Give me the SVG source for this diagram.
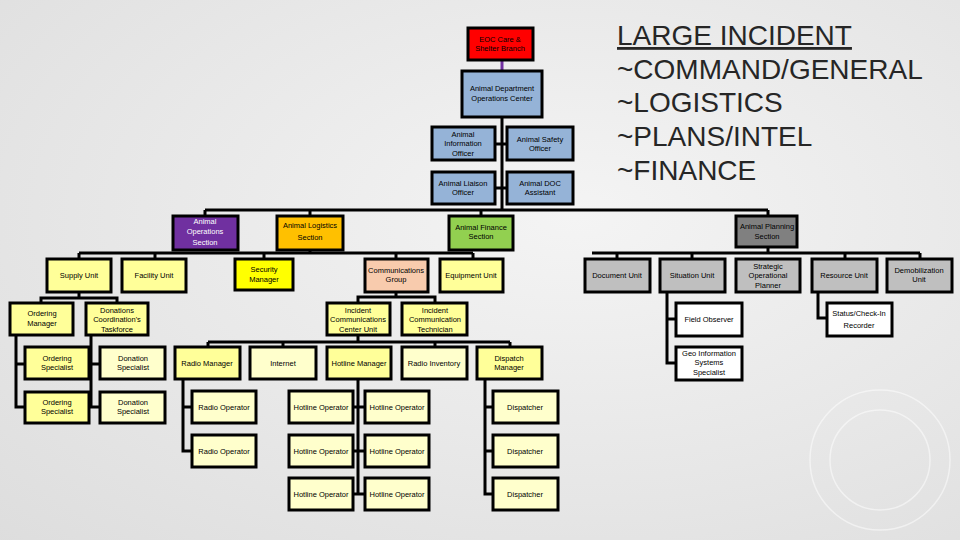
<svg xmlns="http://www.w3.org/2000/svg" width="960" height="540" viewBox="0 0 960 540">
<defs>
<radialGradient id="bg" cx="0.6" cy="0.4" r="0.9"><stop offset="0" stop-color="#f4f4f4"/><stop offset="1" stop-color="#dcdcdc"/></radialGradient>
<style>
rect{stroke:#000;stroke-width:3}
text{font-family:"Liberation Sans",Arial,sans-serif;font-size:7.5px;fill:#000;text-anchor:middle}
.c line,.c polyline{stroke:#000;stroke-width:3;fill:none}
.big{font-size:28px;text-anchor:start;fill:#262626}
.r{fill:#ff0000}.b{fill:#95b3d7}.p{fill:#7030a0}.g{fill:#ffc000}.gr{fill:#92d050}.dk{fill:#808080}
.y{fill:#ffff99}.yy{fill:#ffff00}.pe{fill:#f8cbad}.ly{fill:#ffffcc}.lg{fill:#bfbfbf}.w{fill:#ffffff}
.wt{fill:#fff}
</style>
</defs>
<rect x="0" y="0" width="960" height="540" fill="url(#bg)" style="stroke:none"/>
<circle cx="880" cy="460" r="70" fill="none" stroke="#fff" stroke-opacity="0.5" stroke-width="1.5"/>
<circle cx="880" cy="460" r="50" fill="none" stroke="#fff" stroke-opacity="0.5" stroke-width="1.5"/>

<g class="c" id="connectors">
<line x1="502" y1="60" x2="502" y2="71" style="stroke:#7030a0"/>
<line x1="502" y1="117" x2="502" y2="210"/>
<line x1="495" y1="144" x2="507" y2="144"/>
<line x1="495" y1="188" x2="507" y2="188"/>
<line x1="205" y1="210" x2="768" y2="210"/>
<line x1="205" y1="210" x2="205" y2="216"/>
<line x1="310" y1="210" x2="310" y2="216"/>
<line x1="481" y1="210" x2="481" y2="216"/>
<line x1="768" y1="210" x2="768" y2="216"/>
<line x1="310" y1="250" x2="310" y2="253"/>
<line x1="79" y1="253" x2="473" y2="253"/>
<line x1="79" y1="253" x2="79" y2="259"/>
<line x1="155" y1="253" x2="155" y2="259"/>
<line x1="264" y1="253" x2="264" y2="259"/>
<line x1="396" y1="253" x2="396" y2="259"/>
<line x1="473" y1="253" x2="473" y2="259"/>
<polyline points="41,303 41,298 117,298 117,303"/>
<line x1="79" y1="292" x2="79" y2="298"/>
<polyline points="16,335 16,407 25,407"/>
<line x1="16" y1="364" x2="25" y2="364"/>
<polyline points="91,335 91,407 100,407"/>
<line x1="91" y1="364" x2="100" y2="364"/>
<line x1="396" y1="292" x2="396" y2="297"/>
<polyline points="358,303 358,297 435,297 435,303"/>
<line x1="358" y1="335" x2="358" y2="342"/>
<line x1="208" y1="342" x2="510" y2="342"/>
<line x1="208" y1="342" x2="208" y2="347"/>
<line x1="283" y1="342" x2="283" y2="347"/>
<line x1="435" y1="342" x2="435" y2="347"/>
<line x1="510" y1="342" x2="510" y2="347"/>
<polyline points="183,379 183,451 192,451"/>
<line x1="183" y1="407" x2="192" y2="407"/>
<line x1="358" y1="379" x2="358" y2="494"/>
<line x1="353" y1="407" x2="365" y2="407"/>
<line x1="353" y1="451" x2="365" y2="451"/>
<line x1="353" y1="494" x2="365" y2="494"/>
<polyline points="485,379 485,494 493,494"/>
<line x1="485" y1="407" x2="493" y2="407"/>
<line x1="485" y1="451" x2="493" y2="451"/>
<line x1="768" y1="247" x2="768" y2="253"/>
<line x1="592" y1="253" x2="920" y2="253"/>
<line x1="617" y1="253" x2="617" y2="259"/>
<line x1="692" y1="253" x2="692" y2="259"/>
<line x1="845" y1="253" x2="845" y2="259"/>
<line x1="920" y1="253" x2="920" y2="259"/>
<polyline points="667,292 667,363 676,363"/>
<line x1="667" y1="319" x2="676" y2="319"/>
<polyline points="818,292 818,318 827,318"/>
</g>

<g id="eoc"><rect class="r" x="468" y="28" width="65" height="32"/><text x="500" y="42">EOC Care &amp;</text><text x="500" y="51">Shelter Branch</text></g>
<g id="adoc"><rect class="b" x="462" y="71" width="80" height="46"/><text x="502" y="91">Animal Department</text><text x="502" y="101">Operations Center</text></g>
<g id="aio"><rect class="b" x="432" y="127" width="63" height="33"/><text x="463" y="137">Animal</text><text x="463" y="146">Information</text><text x="463" y="156">Officer</text></g>
<g id="aso"><rect class="b" x="507" y="127" width="66" height="33"/><text x="540" y="142">Animal Safety</text><text x="540" y="151">Officer</text></g>
<g id="alo"><rect class="b" x="432" y="172" width="63" height="32"/><text x="463" y="186">Animal Liaison</text><text x="463" y="195">Officer</text></g>
<g id="adas"><rect class="b" x="507" y="172" width="66" height="32"/><text x="540" y="186">Animal DOC</text><text x="540" y="195">Assistant</text></g>
<g id="ops"><rect class="p" x="173" y="216" width="65" height="34"/><text class="wt" x="205" y="224">Animal</text><text class="wt" x="205" y="234">Operations</text><text class="wt" x="205" y="245">Section</text></g>
<g id="log"><rect class="g" x="277" y="216" width="66" height="34"/><text x="310" y="228">Animal Logistics</text><text x="310" y="240">Section</text></g>
<g id="fin"><rect class="gr" x="449" y="216" width="64" height="34"/><text x="481" y="230">Animal Finance</text><text x="481" y="239">Section</text></g>
<g id="plan"><rect class="dk" x="736" y="216" width="61" height="31"/><text x="767" y="229">Animal Planning</text><text x="767" y="239">Section</text></g>

<g id="supply"><rect class="y" x="47" y="259" width="64" height="33"/><text x="79" y="278">Supply Unit</text></g>
<g id="facility"><rect class="y" x="122" y="259" width="64" height="33"/><text x="154" y="278">Facility Unit</text></g>
<g id="security"><rect class="yy" x="235" y="259" width="58" height="31"/><text x="264" y="272">Security</text><text x="264" y="282">Manager</text></g>
<g id="comms"><rect class="pe" x="365" y="259" width="63" height="33"/><text x="396" y="273">Communications</text><text x="396" y="282">Group</text></g>
<g id="equip"><rect class="y" x="440" y="259" width="63" height="33"/><text x="471" y="278">Equipment Unit</text></g>

<g id="ordmgr"><rect class="y" x="10" y="303" width="63" height="32"/><text x="42" y="316">Ordering</text><text x="42" y="326">Manager</text></g>
<g id="donct"><rect class="y" x="86" y="303" width="62" height="32"/><text x="117" y="313">Donations</text><text x="117" y="322">Coordination's</text><text x="117" y="332">Taskforce</text></g>
<g id="ordsp1"><rect class="y" x="25" y="347" width="64" height="32"/><text x="57" y="361">Ordering</text><text x="57" y="370">Specialist</text></g>
<g id="ordsp2"><rect class="y" x="25" y="392" width="64" height="31"/><text x="57" y="405">Ordering</text><text x="57" y="414">Specialist</text></g>
<g id="donsp1"><rect class="ly" x="100" y="347" width="65" height="32"/><text x="133" y="361">Donation</text><text x="133" y="370">Specialist</text></g>
<g id="donsp2"><rect class="ly" x="100" y="392" width="65" height="31"/><text x="133" y="405">Donation</text><text x="133" y="414">Specialist</text></g>

<g id="iccu"><rect class="y" x="327" y="303" width="63" height="32"/><text x="358" y="313">Incident</text><text x="358" y="322">Communications</text><text x="358" y="332">Center Unit</text></g>
<g id="ict"><rect class="y" x="402" y="303" width="65" height="32"/><text x="435" y="313">Incident</text><text x="435" y="322">Communication</text><text x="435" y="332">Technician</text></g>
<g id="radiomgr"><rect class="y" x="175" y="347" width="65" height="32"/><text x="207" y="366">Radio Manager</text></g>
<g id="internet"><rect class="ly" x="250" y="347" width="66" height="32"/><text x="283" y="366">Internet</text></g>
<g id="hotmgr"><rect class="y" x="327" y="347" width="64" height="32"/><text x="359" y="366">Hotline Manager</text></g>
<g id="radioinv"><rect class="ly" x="402" y="347" width="65" height="32"/><text x="434" y="366">Radio Inventory</text></g>
<g id="dispmgr"><rect class="y" x="477" y="347" width="65" height="32"/><text x="509" y="361">Dispatch</text><text x="509" y="370">Manager</text></g>

<g id="radioop1"><rect class="ly" x="192" y="391" width="64" height="32"/><text x="224" y="410">Radio Operator</text></g>
<g id="radioop2"><rect class="ly" x="192" y="435" width="64" height="32"/><text x="224" y="454">Radio Operator</text></g>
<g id="hot1"><rect class="ly" x="289" y="391" width="64" height="32"/><text x="321" y="410">Hotline Operator</text></g>
<g id="hot2"><rect class="ly" x="365" y="391" width="64" height="32"/><text x="397" y="410">Hotline Operator</text></g>
<g id="hot3"><rect class="ly" x="289" y="435" width="64" height="32"/><text x="321" y="454">Hotline Operator</text></g>
<g id="hot4"><rect class="ly" x="365" y="435" width="64" height="32"/><text x="397" y="454">Hotline Operator</text></g>
<g id="hot5"><rect class="ly" x="289" y="478" width="64" height="32"/><text x="321" y="497">Hotline Operator</text></g>
<g id="hot6"><rect class="ly" x="365" y="478" width="64" height="32"/><text x="397" y="497">Hotline Operator</text></g>
<g id="disp1"><rect class="ly" x="493" y="391" width="65" height="32"/><text x="525" y="410">Dispatcher</text></g>
<g id="disp2"><rect class="ly" x="493" y="435" width="65" height="32"/><text x="525" y="454">Dispatcher</text></g>
<g id="disp3"><rect class="ly" x="493" y="478" width="65" height="32"/><text x="525" y="497">Dispatcher</text></g>

<g id="docu"><rect class="lg" x="585" y="259" width="65" height="33"/><text x="617" y="278">Document Unit</text></g>
<g id="situ"><rect class="lg" x="660" y="259" width="65" height="33"/><text x="692" y="278">Situation Unit</text></g>
<g id="strat"><rect class="lg" x="736" y="259" width="64" height="33"/><text x="768" y="269">Strategic</text><text x="768" y="278">Operational</text><text x="768" y="288">Planner</text></g>
<g id="resu"><rect class="lg" x="812" y="259" width="65" height="33"/><text x="844" y="278">Resource Unit</text></g>
<g id="demob"><rect class="lg" x="887" y="259" width="65" height="33"/><text x="919" y="273">Demobilization</text><text x="919" y="282">Unit</text></g>
<g id="field"><rect class="w" x="676" y="303" width="66" height="33"/><text x="709" y="322">Field Observer</text></g>
<g id="geo"><rect class="w" x="676" y="347" width="66" height="33"/><text x="709" y="356">Geo Information</text><text x="709" y="365">Systems</text><text x="709" y="375">Specialist</text></g>
<g id="status"><rect class="w" x="827" y="303" width="65" height="33"/><text x="859" y="316">Status/Check-In</text><text x="859" y="328">Recorder</text></g>

<g id="title">
<text class="big" x="617" y="45" text-decoration="underline">LARGE INCIDENT</text>
<text class="big" x="617" y="79">~COMMAND/GENERAL</text>
<text class="big" x="617" y="112">~LOGISTICS</text>
<text class="big" x="617" y="146">~PLANS/INTEL</text>
<text class="big" x="617" y="180">~FINANCE</text>
</g>
</svg>
